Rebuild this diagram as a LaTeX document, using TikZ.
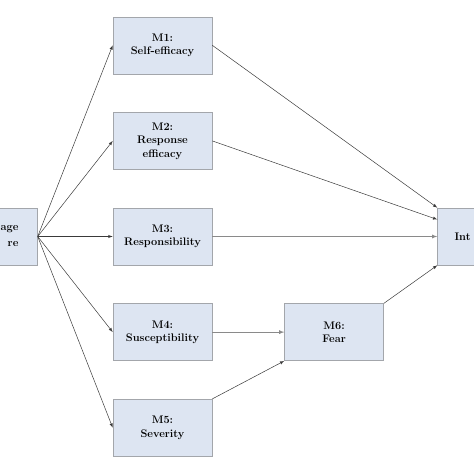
\documentclass[tikz,border=0pt]{standalone}
\usepackage{tikz}
\usetikzlibrary{
  shapes,
  positioning,
  calc,
  arrows
}
\definecolor{boxfill}{HTML}{DDE5F2}
\definecolor{boxline}{HTML}{A3A6AB}
\definecolor{linkdark}{HTML}{3A3A3A}
\definecolor{linklight}{HTML}{8A8A8A}

\begin{document}
\begin{tikzpicture}[node distance = 38pt, >=latex,
    mbox/.style = {rectangle, draw = boxline, fill = boxfill, line width = 0.6pt,
      minimum width = 99pt, minimum height = 57pt, align = center,
      font = \bfseries\fontsize{11}{13.5}\selectfont},
    link/.style = {->, draw = linkdark, line width = 0.5pt},
    flat/.style = {->, draw = linklight, line width = 0.8pt}]
    \useasboundingbox (0,0) rectangle (474pt,-474pt);

    \node[mbox] (m3) at (162.5pt,-236.5pt) {M3:\\Responsibility};
    \node[mbox, above = of m3] (m2) {M2:\\Response\\efficacy};
    \node[mbox, above = of m2] (m1) {M1:\\Self-efficacy};
    \node[mbox, below = of m3] (m4) {M4:\\Susceptibility};
    \node[mbox, below = of m4] (m5) {M5:\\Severity};
    \node[mbox, right = 72pt of m4] (m6) {M6:\\Fear};

    % boxes cut by the page edge
    \node[mbox, left = 75pt of m3, text width = 61pt, inner xsep = 0pt, align = right,
      font = \bfseries\fontsize{11}{16}\selectfont] (msg) {age\\\hspace*{6pt}re};
    \node[mbox, right = 225pt of m3, text width = 65pt, inner xsep = 0pt, align = left] (int) {Int};

    \draw[link] (msg.east) -- (m1.west);
    \draw[link] (msg.east) -- (m2.west);
    \draw[link] (msg.east) -- (m3.west);
    \draw[link] (msg.east) -- (m4.west);
    \draw[link] (msg.east) -- (m5.west);

    \draw[link] (m1.east) -- (int.north west);
    \draw[link] (m2.east) -- ([yshift=17pt]int.west);
    \draw[flat] (m3.east) -- (int.west);
    \draw[flat] (m4.east) -- (m6.west);
    \draw[link] (m5.north east) -- (m6.south west);
    \draw[link] (m6.north east) -- (int.south west);
  \end{tikzpicture}
\end{document}
